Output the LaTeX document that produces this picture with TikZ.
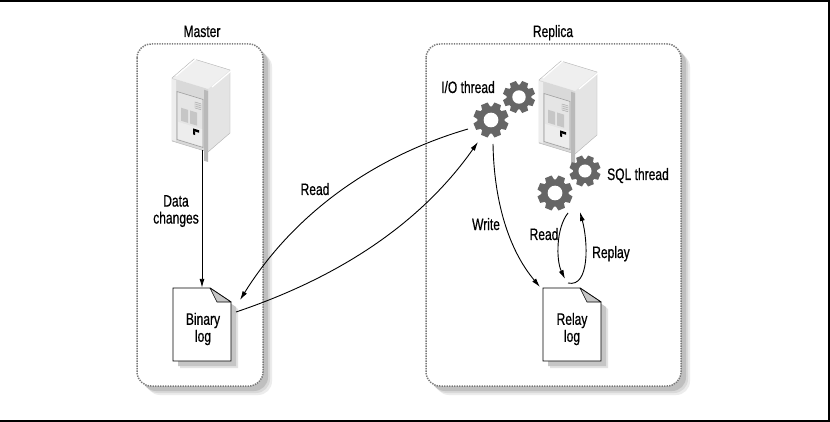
\documentclass[tikz,border=0pt]{standalone}
\usepackage{fontspec}
\setmainfont[FakeStretch=0.73,FakeBold=0.6]{Liberation Sans}
\usetikzlibrary{arrows.meta}
\definecolor{gearc}{HTML}{666666}
\definecolor{dotc}{HTML}{7A7A7A}
\definecolor{srvtop}{HTML}{EFEFEF}
\definecolor{srvside}{HTML}{E4E4E4}
\definecolor{srvfront}{HTML}{D9D9D9}
\tikzset{
  lab/.style={font=\fontsize{16.5}{17}\selectfont, inner sep=0pt, anchor=base},
  doctxt/.style={font=\fontsize{16.5}{17}\selectfont, inner sep=0pt, align=center},
  arr/.style={line width=0.9pt, -{Latex[length=9pt,width=5pt]}},
  dotbox/.style={draw=dotc, line width=1.5pt, dash pattern=on 1.4pt off 1.1pt, rounded corners=14pt},
}
\newcommand\mygear[3]{%
  \begin{scope}[shift={(#1,#2)}]
    \fill[gearc] (0,0) circle[radius=0.78*#3];
    \foreach \a in {0,45,...,315}
      \fill[gearc,rotate=\a+22.5] (-0.27*#3,0.6*#3) -- (0.27*#3,0.6*#3) -- (0.2*#3,#3) -- (-0.2*#3,#3) -- cycle;
    \fill[white] (0,0) circle[radius=0.42*#3];
  \end{scope}}
\newcommand\myserver[2]{%
  \begin{scope}[shift={(#1,#2)}]
    \fill[srvtop] (172,78) -- (194,59) -- (230,70) -- (208,89) -- cycle;
    \fill[srvside] (208,89) -- (230,70) -- (230,133) -- (208,152) -- cycle;
    \fill[srvfront] (172,78) -- (208,89) -- (208,152) -- (172,141) -- cycle;
    \draw[gray!60, line width=0.4pt] (172,78) -- (194,59) -- (230,70) -- (230,133) -- (208,152) -- (172,141) -- cycle;
    \draw[white, line width=1.2pt] (176,76) -- (197,58);
    \draw[white, line width=1.2pt] (212,87) -- (231,71);
    \begin{scope}[shift={(172,78)}, yslant=-0.305]
      \fill[white!93!black] (0,1) rectangle (4,62);
      \fill[gray!55] (32,2) rectangle (36,73);
      \fill[white!90!black] (5,12) rectangle (31,60);
      \draw[gray!75, line width=0.6pt] (5,12) rectangle (31,60);
      \fill[white!93!black] (6,42) rectangle (30,59);
      \draw[gray!70, line width=0.4pt] (23,17) rectangle (29,23);
      \draw[gray!70, line width=0.3pt] (25,17) -- (25,23) (27,17) -- (27,23) (23,19) -- (29,19) (23,21) -- (29,21);
      \fill[gray!45] (9,27) rectangle (16,40);
      \fill[gray!45] (18,27) rectangle (25,40);
      \fill[black] (21,44) rectangle (27,46.5);
      \fill[black] (21,46.5) rectangle (23,50);
    \end{scope}
  \end{scope}}
\newcommand\mydoc[5]{%
  \node[minimum width=#4pt-#2pt, minimum height=#5pt-#3pt, inner sep=0pt] (#1) at ({(#2+#4)/2},{(#3+#5)/2}) {};
  \fill[gray!22] (#2+7,#3+7) -- (#4-21+7,#3+7) -- (#4+7,#3+14+7) -- (#4+7,#5+7) -- (#2+7,#5+7) -- cycle;
  \fill[gray!45] (#2+5,#3+5) -- (#4-21+5,#3+5) -- (#4+5,#3+14+5) -- (#4+5,#5+5) -- (#2+5,#5+5) -- cycle;
  \draw[fill=white, line width=0.9pt] (#2,#3) -- (#4-21,#3) -- (#4,#3+14) -- (#4,#5) -- (#2,#5) -- cycle;
  \draw[fill=gray!45, line width=0.6pt, line join=round] (#4-21,#3) -- (#4-14,#3+14) -- (#4,#3+14) -- cycle;}
\begin{document}
\begin{tikzpicture}[x=1pt,y=-1pt]
\useasboundingbox (0,0) rectangle (830,422);
\fill[white] (0,0) rectangle (830,422);
% outer frame
\draw[line width=1.5pt] (0,1) -- (829,1) -- (829,421) -- (0,421);
% group boxes with shadows
\foreach \o/\c in {9/gray!15, 7/gray!30, 5/gray!50} {
  \fill[\c, rounded corners=14pt] (137+\o,44+\o) rectangle (263+\o,386+\o);
  \fill[\c, rounded corners=14pt] (426+\o,44+\o) rectangle (681+\o,386+\o);
}
\fill[white, rounded corners=14pt] (137,44) rectangle (263,386);
\fill[white, rounded corners=14pt] (426,44) rectangle (681,386);
\draw[dotbox] (137,44) rectangle (263,386);
\draw[dotbox] (426,44) rectangle (681,386);
\node[lab] (mastert) at (202,37) {Master};
\node[lab] (replicat) at (553,37) {Replica};
% servers
\myserver{0}{0}
\myserver{367}{2}
\coordinate (msrv) at (202,150);
% gears
\mygear{519}{97}{16}
\mygear{491}{120}{17.5}
\mygear{585}{171}{15.5}
\mygear{555}{193}{17.5}
\node[circle, minimum size=35pt, inner sep=0pt] (iogear) at (491,120) {};
\node[circle, minimum size=35pt, inner sep=0pt] (sqlgear) at (555,193) {};
\node[lab] (iot) at (468,93) {I/O thread};
\node[lab] (sqlt) at (638,180) {SQL thread};
% documents
\mydoc{binlog}{173}{288}{231}{361}
\mydoc{rellog}{543}{288}{601}{361}
\node[doctxt] (binlogt) at (203,329) {Binary\\log};
\node[doctxt] (rellogt) at (572,329) {Relay\\log};
% connection points
\coordinate (ioA) at (468,129);
\coordinate (binA) at (240,300);
\coordinate (binB) at (236,312);
\coordinate (ioB) at (478,142);
\coordinate (ioC) at (493,144);
\coordinate (relA) at (540,287);
\coordinate (sqlA) at (568,213);
\coordinate (relB) at (565,279);
\coordinate (relC) at (568,283);
\coordinate (sqlB) at (580,212);
% connectors
\draw[arr] (msrv) -- (binlog.north);
\node[lab, align=center, anchor=north] (datat) at (176,195) {Data\\changes};
\draw[arr] (ioA) .. controls (372,157) and (293,215) .. (binA);
\draw[arr] (binB) .. controls (340,277) and (421,223) .. (ioB);
\node[lab] (readt) at (315,195) {Read};
\draw[arr] (ioC) .. controls (494,200) and (508,249) .. (relA);
\node[lab] (writet) at (486,230) {Write};
\draw[arr] (sqlA) .. controls (556,228) and (556,260) .. (relB);
\node[lab] (read2t) at (544,240) {Read};
\draw[arr] (relC) .. controls (590,288) and (588,241) .. (sqlB);
\node[lab] (replayt) at (611,258) {Replay};
\end{tikzpicture}
\end{document}
